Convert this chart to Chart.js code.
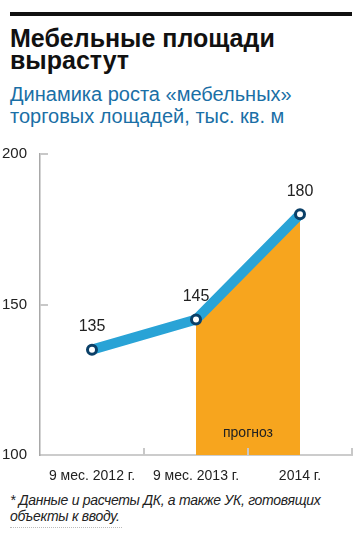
<!DOCTYPE html>
<html>
<head>
<meta charset="utf-8">
<script src="https://cdn.jsdelivr.net/npm/chart.js@4.4.0/dist/chart.umd.min.js"></script>
<style>
  body { margin: 0; background: #fff; font-family: "Liberation Sans", Arial, sans-serif; }
  #wrap { position: relative; width: 364px; height: 540px; overflow: hidden; }
  .rule { position: absolute; left: 10px; top: 12px; width: 342px; height: 4px; background: #111; }
  .title { position: absolute; left: 10px; top: 27px; font-weight: bold; font-size: 25px; line-height: 22px; color: #111; }
  .subtitle { position: absolute; left: 10px; top: 83px; font-size: 20px; line-height: 22px; color: #1a6fa6; }
  .note { position: absolute; left: 10px; top: 492px; font-style: italic; font-size: 14px; line-height: 16px; letter-spacing: -0.3px; color: #222; }
  .dots { position: absolute; left: 10px; top: 527px; width: 112px; border-top: 1px dotted #bbb; }
  #box { position: absolute; left: 0; top: 140px; width: 364px; height: 345px; }
</style>
</head>
<body>
<div id="wrap">
  <div class="rule"></div>
  <div class="title">Мебельные площади<br>вырастут</div>
  <div class="subtitle">Динамика роста «мебельных»<br>торговых лощадей, тыс. кв. м</div>
  <div id="box"><canvas id="chart"></canvas></div>
  <div class="note">* Данные и расчеты ДК, а также УК, готовящих<br>объекты к вводу.</div>
  <div class="dots"></div>
</div>
<script>
/* ---------- DATA ---------- */
const categories = ["9 мес. 2012 г.", "9 мес. 2013 г.", "2014 г."];
const areaValues = [135, 145, 180];
const forecastValues = [null, 145, 180];
const yTicks = [100, 150, 200];
const forecastLabel = "прогноз";

/* ---------- COLORS ---------- */
const lineColor = "#29a3d6";
const pointColor = "#0b4068";
const fillColor = "#f7a51e";
const axisColor = "#a8a8a8";
const textColor = "#222";

/* value labels + forecast caption + small inner tick marks */
const extras = {
  id: "extras",
  afterDatasetsDraw(chart) {
    const ctx = chart.ctx;
    const x = chart.scales.x, y = chart.scales.y;
    const area = chart.chartArea;
    const meta = chart.getDatasetMeta(0);

    ctx.save();
    ctx.fillStyle = textColor;
    ctx.textAlign = "center";
    ctx.textBaseline = "middle";
    ctx.font = "16px 'Liberation Sans', Arial, sans-serif";
    meta.data.forEach((pt, i) => {
      ctx.fillText(String(areaValues[i]), pt.x, pt.y - 23);
    });

    const first = forecastValues.findIndex(v => v !== null);
    const cx = (x.getPixelForValue(first) + x.getPixelForValue(forecastValues.length - 1)) / 2;
    ctx.font = "14px 'Liberation Sans', Arial, sans-serif";
    ctx.fillText(forecastLabel, cx, area.bottom - 22);

    ctx.strokeStyle = "#c8c8c8";
    ctx.lineWidth = 2;
    const step = x.getPixelForValue(1) - x.getPixelForValue(0);
    for (let i = 0; i < categories.length; i++) {
      const px = Math.round(x.getPixelForValue(i) + step / 2);
      ctx.beginPath();
      ctx.moveTo(px, area.bottom);
      ctx.lineTo(px, area.bottom - 7);
      ctx.stroke();
    }
    yTicks.slice(1).forEach(v => {
      const py = Math.round(y.getPixelForValue(v));
      ctx.beginPath();
      ctx.moveTo(area.left, py);
      ctx.lineTo(area.left + 8, py);
      ctx.stroke();
    });
    ctx.restore();
  }
};

new Chart(document.getElementById("chart"), {
  type: "line",
  data: {
    labels: categories,
    datasets: [
      {
        data: areaValues,
        borderColor: lineColor,
        borderWidth: 10,
        tension: 0,
        pointRadius: 4.5,
        pointBorderWidth: 3,
        pointBorderColor: pointColor,
        pointBackgroundColor: "#fff",
        fill: false,
        order: 0
      },
      {
        data: forecastValues,
        borderWidth: 0,
        pointRadius: 0,
        backgroundColor: fillColor,
        fill: "start",
        tension: 0,
        order: 1
      }
    ]
  },
  options: {
    responsive: true,
    maintainAspectRatio: false,
    animation: false,
    layout: { padding: { top: 14, right: 12, left: 0, bottom: 0 } },
    plugins: {
      legend: { display: false },
      tooltip: { enabled: false }
    },
    scales: {
      x: {
        offset: true,
        grid: { display: false },
        border: { color: "#cccccc", width: 2 },
        ticks: {
          color: textColor,
          padding: 5,
          maxRotation: 0,
          font: { family: "'Liberation Sans', Arial, sans-serif", size: 14 }
        },
        afterFit: s => { s.height = 30; }
      },
      y: {
        min: yTicks[0],
        max: yTicks[yTicks.length - 1],
        afterBuildTicks: s => { s.ticks = yTicks.map(v => ({ value: v })); },
        grid: { display: false },
        border: { color: axisColor, width: 1.5 },
        ticks: {
          color: textColor,
          padding: 5,
          font: { family: "'Liberation Sans', Arial, sans-serif", size: 15 }
        },
        afterFit: s => { s.width = 40; }
      }
    }
  },
  plugins: [extras]
});
</script>
</body>
</html>
